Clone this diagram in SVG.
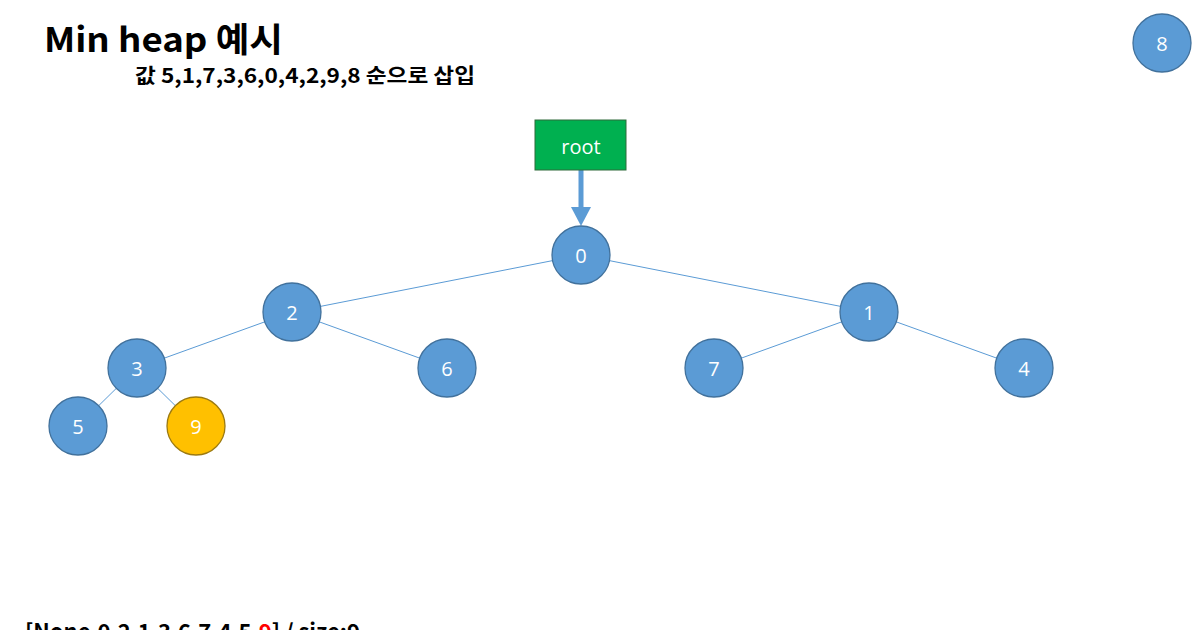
<svg xmlns="http://www.w3.org/2000/svg" width="1200" height="630" viewBox="0 0 1200 630">
<style>
.n{fill:#5b9bd5;stroke:#41719c;stroke-width:1.3}
.y{fill:#ffc000;stroke:#9c7a10;stroke-width:1.3}
.t{font-family:"Open Sans","Noto Sans CJK KR",sans-serif;font-size:20px;fill:#fff;text-anchor:middle;dominant-baseline:central}
.e{stroke:#5b9bd5;stroke-width:1;fill:none}
.b{font-family:"Noto Sans CJK KR","Open Sans",sans-serif;font-weight:bold;fill:#000}
</style>
<rect width="1200" height="630" fill="#fff"/>
<text class="b" x="44" y="52" font-size="34" textLength="239" lengthAdjust="spacingAndGlyphs">Min heap 예시</text>
<text class="b" x="135" y="83" font-size="20" textLength="340" lengthAdjust="spacingAndGlyphs">값 5,1,7,3,6,0,4,2,9,8 순으로 삽입</text>
<text class="b" x="25" y="640" font-size="22">[None,0,2,1,3,6,7,4,5,<tspan fill="#ff0000">9</tspan>] / size:9</text>
<g id="connectors">
<line class="e" x1="581" y1="255" x2="292" y2="312"/>
<line class="e" x1="581" y1="255" x2="869" y2="312"/>
<line class="e" x1="292" y1="312" x2="137" y2="368"/>
<line class="e" x1="292" y1="312" x2="447" y2="368"/>
<line class="e" x1="869" y1="312" x2="714" y2="368"/>
<line class="e" x1="869" y1="312" x2="1024" y2="368"/>
<line class="e" x1="137" y1="368" x2="78" y2="426"/>
<line class="e" x1="137" y1="368" x2="196" y2="426"/>
<line x1="581" y1="170" x2="581" y2="208" stroke="#5b9bd5" stroke-width="5"/>
<polygon points="571,207 591,207 581,226" fill="#5b9bd5"/>
</g>
<g id="root"><rect x="535" y="120" width="91" height="50" fill="#00b050" stroke="#2f6b3a" stroke-width="1"/><text class="t" x="581" y="146">root</text></g>
<g id="n0"><circle class="n" cx="581" cy="255" r="29"/><text class="t" x="581" y="255">0</text></g>
<g id="n2"><circle class="n" cx="292" cy="312" r="29"/><text class="t" x="292" y="312">2</text></g>
<g id="n1"><circle class="n" cx="869" cy="312" r="29"/><text class="t" x="869" y="312">1</text></g>
<g id="n3"><circle class="n" cx="137" cy="368" r="29"/><text class="t" x="137" y="368">3</text></g>
<g id="n6"><circle class="n" cx="447" cy="368" r="29"/><text class="t" x="447" y="368">6</text></g>
<g id="n7"><circle class="n" cx="714" cy="368" r="29"/><text class="t" x="714" y="368">7</text></g>
<g id="n4"><circle class="n" cx="1024" cy="368" r="29"/><text class="t" x="1024" y="368">4</text></g>
<g id="n5"><circle class="n" cx="78" cy="426" r="29"/><text class="t" x="78" y="426">5</text></g>
<g id="n9"><circle class="y" cx="196" cy="426" r="29"/><text class="t" x="196" y="426">9</text></g>
<g id="n8"><circle class="n" cx="1162" cy="43" r="29"/><text class="t" x="1162" y="43">8</text></g>
</svg>
